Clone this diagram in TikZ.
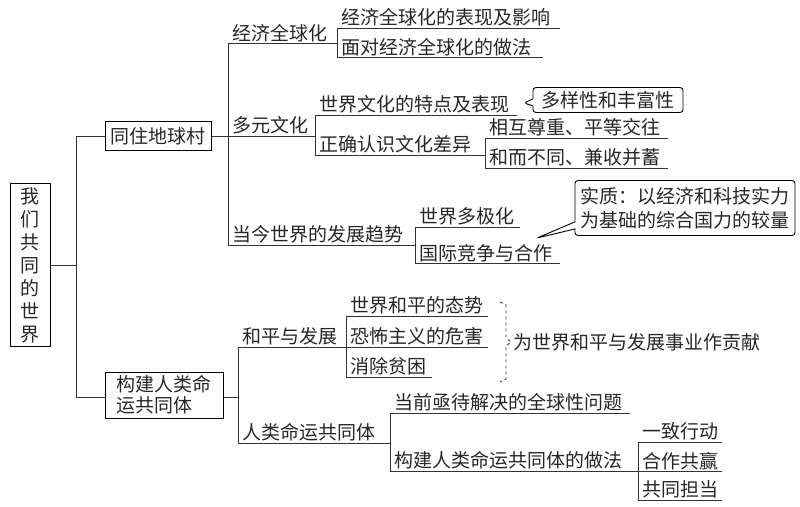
\documentclass[tikz,border=0pt]{standalone}
\usepackage{fontspec}
\setmainfont{Noto Sans CJK SC}
\usetikzlibrary{shapes.callouts}
\begin{document}
\begin{tikzpicture}[x=1pt,y=-1pt,line width=0.9pt,
  every node/.style={font=\fontsize{19}{22}\selectfont,text=black!85},
  lab/.style={anchor=south west,inner sep=1pt},
  bx/.style={draw,inner sep=2pt,align=center},
  co/.style={rectangle callout,draw,rounded corners=3pt,inner sep=2pt,align=left}]
\useasboundingbox (0,0) rectangle (800,506);
\draw[draw=black!80]
 % root
 (50,265)--(76,265) (76,136)--(76,397) (76,136)--(105,136) (76,397)--(105,397)
 % box1 subtree
 (211,136)--(228,136) (228,43)--(228,245)
 (228,43)--(337,43) (337,28)--(337,57) (337,28)--(560,28) (337,57)--(543,57)
 (228,136)--(315,136) (315,115)--(315,155) (315,115)--(517,115) (315,155)--(485,155)
 (485,138)--(485,168) (485,138)--(668,138) (485,168)--(668,168)
 (228,245)--(415,245) (415,227)--(415,263) (415,227)--(520,227) (415,263)--(560,263)
 % box2 subtree
 (223,397)--(238,397) (238,347)--(238,443)
 (238,347)--(346,347) (346,316)--(346,377) (346,316)--(488,316) (346,347)--(488,347) (346,377)--(432,377)
 (238,443)--(390,443) (390,413)--(390,471) (390,413)--(630,413) (390,471)--(638,471)
 (638,442)--(638,500) (638,442)--(722,442) (638,471)--(722,471) (638,500)--(722,500);
\node[bx,minimum width=40pt,minimum height=163pt,inner sep=0pt,font=\fontsize{19}{23}\selectfont] (root) at (30,265) {我\\们\\共\\同\\的\\世\\界};
\node[bx,minimum width=106pt,minimum height=29pt] (b1) at (158,136) {同住地球村};
\node[bx,minimum width=118pt,minimum height=46pt,align=left,font=\fontsize{19}{21}\selectfont] (b2) at (164,395) {构建人类命\\运共同体};
\node[lab] (a1) at (231,43) {经济全球化};
\node[lab] (a11) at (340,28) {经济全球化的表现及影响};
\node[lab] (a12) at (340,57) {面对经济全球化的做法};
\node[lab] (a2) at (231,136) {多元文化};
\node[lab] (a21) at (318,115) {世界文化的特点及表现};
\node[lab] (a22) at (318,155) {正确认识文化差异};
\node[lab] (a221) at (488,138) {相互尊重、平等交往};
\node[lab] (a222) at (488,168) {和而不同、兼收并蓄};
\node[lab] (a3) at (231,245) {当今世界的发展趋势};
\node[lab] (a31) at (418,227) {世界多极化};
\node[lab] (a32) at (418,263) {国际竞争与合作};
\node[co,minimum width=150pt,minimum height=25pt,callout absolute pointer={(524,103)}] (c1) at (608,100) {多样性和丰富性};
\node[co,minimum width=220pt,minimum height=55pt,font=\fontsize{19}{24}\selectfont,callout absolute pointer={(537,238)}] (c2) at (685,208) {实质：以经济和科技实力\\为基础的综合国力的较量};
\node[lab] (d1) at (241,347) {和平与发展};
\node[lab] (d11) at (349,316) {世界和平的态势};
\node[lab] (d12) at (349,347) {恐怖主义的危害};
\node[lab] (d13) at (349,377) {消除贫困};
\draw[dashed,line width=0.8pt,draw=black!80] (500,302)--(506,305)--(506,338)--(511,342)--(506,346)--(506,379)--(500,382);
\node[anchor=west,inner sep=1pt] (d1r) at (512,342) {为世界和平与发展事业作贡献};
\node[lab] (d2) at (241,443) {人类命运共同体};
\node[lab] (d21) at (393,413) {当前亟待解决的全球性问题};
\node[lab] (d22) at (393,471) {构建人类命运共同体的做法};
\node[lab] (d221) at (641,442) {一致行动};
\node[lab] (d222) at (641,471) {合作共赢};
\node[lab] (d223) at (641,500) {共同担当};
\end{tikzpicture}
\end{document}
